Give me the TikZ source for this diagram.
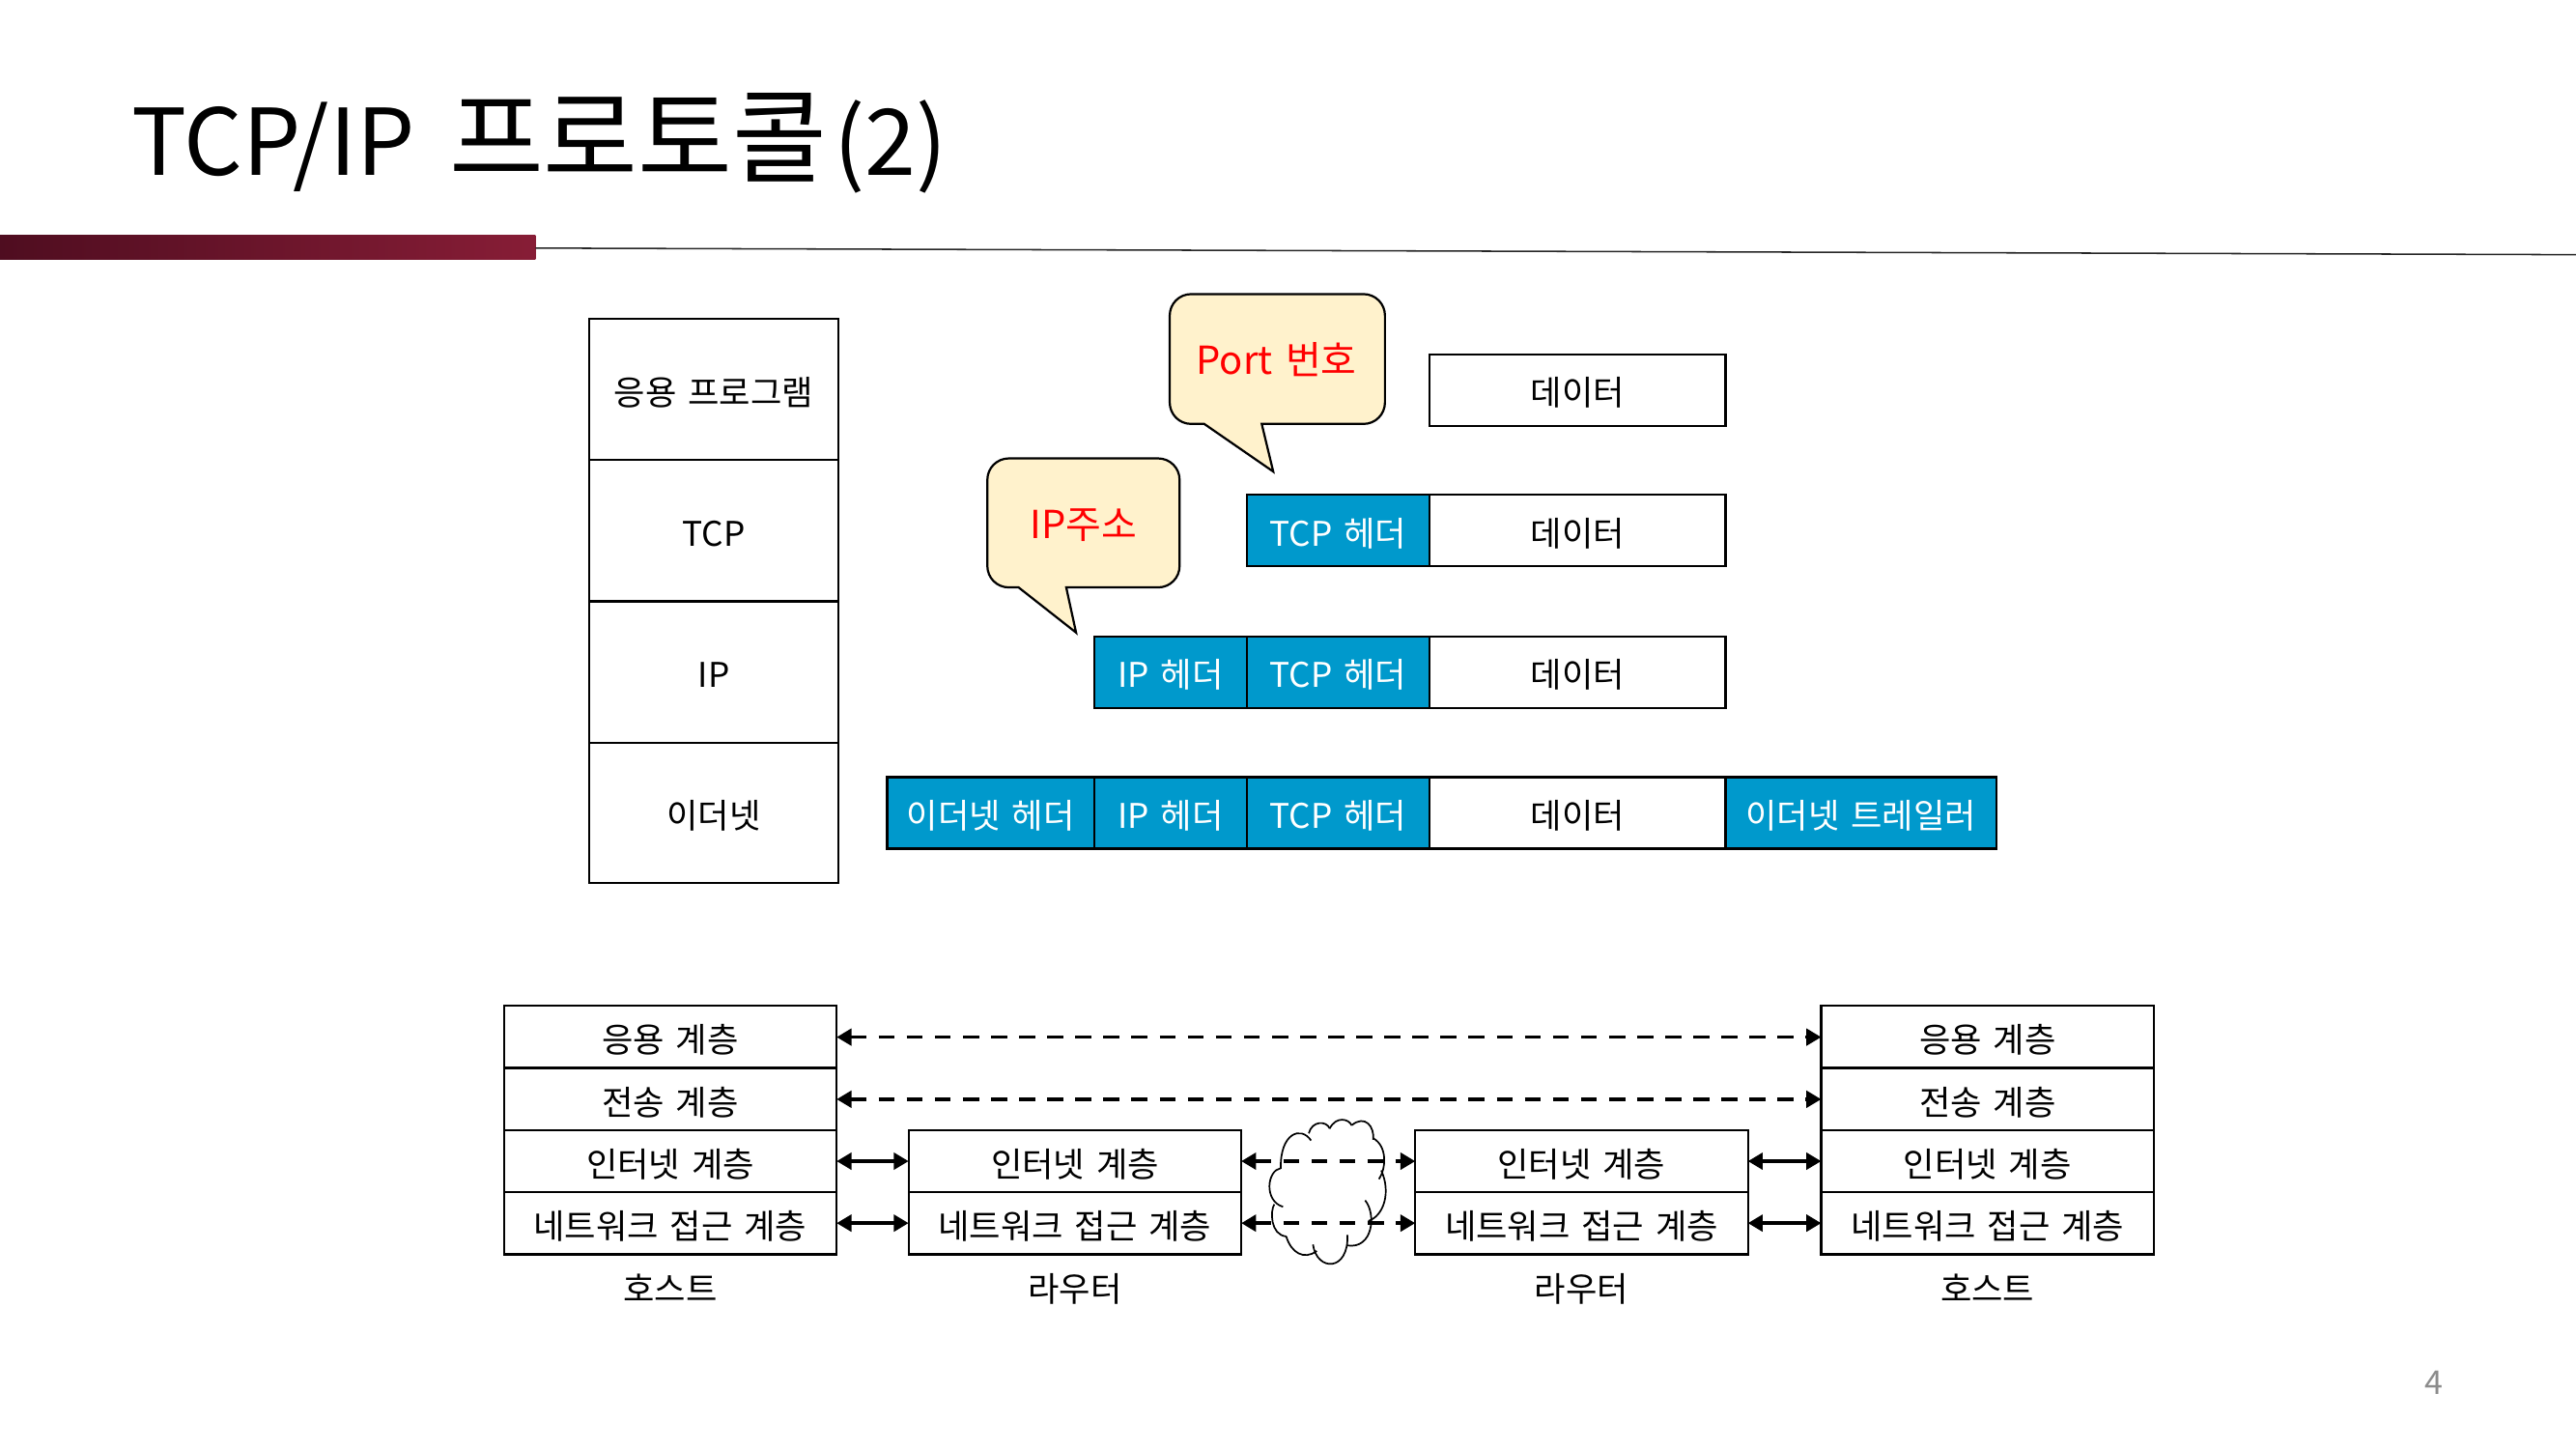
\documentclass[tikz,border=0pt]{standalone}
\usepackage{fontspec}
\setmainfont[WordSpace=1.5]{Noto Sans CJK KR}
\usetikzlibrary{arrows.meta}
\definecolor{blueh}{HTML}{0099CC}
\definecolor{cream}{HTML}{FFF2CC}
\definecolor{barl}{HTML}{4F0D20}
\definecolor{barr}{HTML}{871D36}
\tikzset{
  lbl/.style={inner sep=0pt,outer sep=0pt,font=\fontsize{20.7}{24}\selectfont,text height=19pt,text depth=0pt,align=center},
  wbox/.style={lbl,draw=black,line width=1.3pt,fill=white},
  bbox/.style={wbox,fill=blueh,text=white},
  lay/.style={wbox,minimum width=202.5pt,minimum height=38pt},
  plain/.style={lbl},
  say/.style={lbl,text=red,font=\fontsize{23.5}{28}\selectfont,text height=19pt,text depth=3pt},
  balloon/.style={draw=black,line width=1.3pt,fill=cream,line join=miter},
  solidarrow/.style={line width=2.2pt,{Triangle[length=9pt,width=10pt]}-{Triangle[length=9pt,width=10pt]}},
  dasharrow/.style={solidarrow,dash pattern=on 9.8pt off 7.3pt}
}
\begin{document}
\begin{tikzpicture}[x=1pt,y=-1pt]
\useasboundingbox (0,0) rectangle (1568,882);
% title + rule
\node[anchor=base west,inner sep=0pt,font=\fontsize{56}{60}\selectfont] (title) at (80,106.5) {TCP/IP\hspace{21pt}{\fontsize{62.5}{60}\selectfont 프로토콜}\hspace{4pt}(2)};
\shade[left color=barl,right color=barr] (0,143) rectangle (326,157.6);
\coordinate (rulea) at (326,151);
\coordinate (ruleb) at (1568,155);
\draw[line width=0.9pt,black!85] (rulea) -- (ruleb);
\node[font=\fontsize{20}{22}\selectfont,text=black!45,inner sep=0pt] (pageno) at (1481.5,841.5) {4};
% left stack
\node[wbox,minimum width=152pt,minimum height=86pt] (s1) at (434.5,237) {응용 프로그램};
\node[wbox,minimum width=152pt,minimum height=86pt] (s2) at (434.5,323) {TCP};
\node[wbox,minimum width=152pt,minimum height=86pt] (s3) at (434.5,409) {IP};
\node[wbox,minimum width=152pt,minimum height=85.5pt] (s4) at (434.5,494.7) {이더넷};
% encapsulation rows
\node[wbox,minimum width=180pt,minimum height=43.5pt] (d1) at (960.3,237.3) {데이터};
\node[bbox,minimum width=111pt,minimum height=43.5pt] (t2) at (814.5,323) {TCP 헤더};
\node[wbox,minimum width=180pt,minimum height=43.5pt] (d2) at (960.3,323) {데이터};
\node[bbox,minimum width=93pt,minimum height=43.5pt] (i3) at (712.5,409) {IP 헤더};
\node[bbox,minimum width=111pt,minimum height=43.5pt] (t3) at (814.5,409) {TCP 헤더};
\node[wbox,minimum width=180pt,minimum height=43.5pt] (d3) at (960.3,409) {데이터};
\node[bbox,minimum width=126pt,minimum height=43.5pt] (e4) at (603,494.7) {이더넷 헤더};
\node[bbox,minimum width=93pt,minimum height=43.5pt] (i4) at (712.5,494.7) {IP 헤더};
\node[bbox,minimum width=111pt,minimum height=43.5pt] (t4) at (814.5,494.7) {TCP 헤더};
\node[wbox,minimum width=180pt,minimum height=43.5pt] (d4) at (960.3,494.7) {데이터};
\node[bbox,minimum width=165pt,minimum height=43.5pt] (r4) at (1132.8,494.7) {이더넷 트레일러};
% callouts
\draw[balloon] (725,179) -- (830,179) arc[start angle=-90,end angle=0,radius=13] -- (843,245) arc[start angle=0,end angle=90,radius=13] -- (768,258) -- (775,287) -- (733,258) -- (725,258) arc[start angle=90,end angle=180,radius=13] -- (712,192) arc[start angle=180,end angle=270,radius=13] -- cycle;
\node[say] (cp) at (777,220) {Port 번호};
\draw[balloon] (614,279) -- (705,279) arc[start angle=-90,end angle=0,radius=13] -- (718,344.5) arc[start angle=0,end angle=90,radius=13] -- (649,357.5) -- (655,385) -- (620,357.5) -- (614,357.5) arc[start angle=90,end angle=180,radius=13] -- (601,292) arc[start angle=180,end angle=270,radius=13] -- cycle;
\node[say] (ci) at (659.5,320) {IP주소};
% bottom: host left
\node[lay] (a1) at (408,631.2) {응용 계층};
\node[lay] (a2) at (408,669) {전송 계층};
\node[lay] (a3) at (408,706.7) {인터넷 계층};
\node[lay] (a4) at (408,744.4) {네트워크 접근 계층};
\node[plain] (ha) at (408,783) {호스트};
% router 1
\node[lay] (b3) at (654.3,706.7) {인터넷 계층};
\node[lay] (b4) at (654.3,744.4) {네트워크 접근 계층};
\node[plain] (hb) at (654.3,783) {라우터};
% router 2
\node[lay] (c3) at (962.7,706.7) {인터넷 계층};
\node[lay] (c4) at (962.7,744.4) {네트워크 접근 계층};
\node[plain] (hc) at (962.7,783) {라우터};
% host right
\node[lay] (e1) at (1209.8,631.2) {응용 계층};
\node[lay] (e2) at (1209.8,669) {전송 계층};
\node[lay] (e3) at (1209.8,706.7) {인터넷 계층};
\node[lay] (e4b) at (1209.8,744.4) {네트워크 접근 계층};
\node[plain] (hd) at (1209.8,783) {호스트};
% connectors
\draw[dasharrow] (a1.east) -- (e1.west);
\draw[dasharrow] (a2.east) -- (e2.west);
\draw[solidarrow] (a3.east) -- (b3.west);
\draw[solidarrow] (a4.east) -- (b4.west);
\draw[solidarrow] (c3.east) -- (e3.west);
\draw[solidarrow] (c4.east) -- (e4b.west);
\draw[dasharrow] (b3.east) -- (c3.west);
\draw[dasharrow] (b4.east) -- (c4.west);
% cloud
\begin{scope}[shift={(705.5,664.3)},x=0.196pt,y=-0.196pt,line width=1pt]
\draw (378,240) .. controls (375,130) and (440,105) .. (472,152);
\draw (465,130) .. controls (475,90) and (520,90) .. (530,115);
\draw (530,115) .. controls (550,75) and (590,85) .. (598,105);
\draw (598,105) .. controls (640,70) and (670,110) .. (665,150);
\draw (665,145) .. controls (710,170) and (705,240) .. (683,272);
\draw (690,245) .. controls (720,310) and (700,385) .. (650,402);
\draw (640,338) .. controls (675,380) and (665,490) .. (585,478);
\draw (585,445) .. controls (590,560) and (490,560) .. (478,475);
\draw (490,495) .. controls (450,525) and (410,500) .. (395,450);
\draw (395,450) .. controls (345,445) and (345,370) .. (358,350);
\draw (385,358) .. controls (325,340) and (335,245) .. (378,238);
\end{scope}
\end{tikzpicture}
\end{document}
